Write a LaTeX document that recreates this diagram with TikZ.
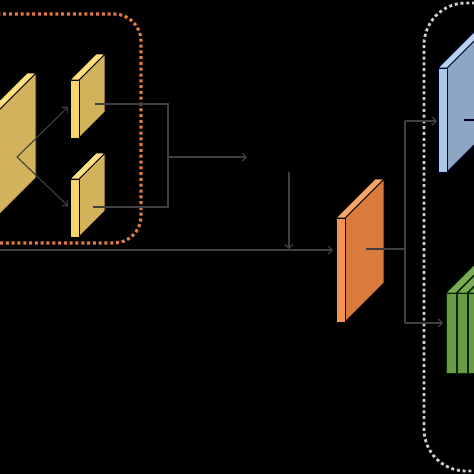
\documentclass[tikz,border=0pt]{standalone}
\usetikzlibrary{arrows.meta}
\definecolor{ylwF}{HTML}{F7D466}
\definecolor{ylwS}{HTML}{D2B25A}
\definecolor{ylwT}{HTML}{FFE07E}
\definecolor{orgF}{HTML}{F4934F}
\definecolor{orgS}{HTML}{D97B3C}
\definecolor{orgT}{HTML}{F7A464}
\definecolor{bluF}{HTML}{A9C9E9}
\definecolor{bluS}{HTML}{8DA6C4}
\definecolor{bluT}{HTML}{B7D3EE}
\definecolor{grnF}{HTML}{6A9A42}
\definecolor{grnS}{HTML}{5E8C38}
\definecolor{grnT}{HTML}{7DAA55}
\definecolor{conn}{HTML}{404040}
\definecolor{dotorg}{HTML}{E07B40}
\definecolor{dotwht}{HTML}{CFCFCF}
\tikzset{
  wire/.style={draw=conn, line width=1.1pt},
  arr/.style={wire, -{Straight Barb[length=4pt,width=8pt]}},
  edge/.style={draw=black!90, line width=0.8pt, line join=round},
  dotbox/.style={line width=3.2pt, dash pattern=on 3pt off 2.8pt, line cap=butt, rounded corners=#1},
}
% \slab{x}{y}{w}{h}{d}{front}{side}{top}{edgecolor}
\newcommand{\slab}[9]{%
  \filldraw[edge, draw=#9, fill=#7] (#1+#3,#2) -- (#1+#3+#5,#2-#5) -- (#1+#3+#5,#2+#4-#5) -- (#1+#3,#2+#4) -- cycle;
  \filldraw[edge, draw=#9, fill=#8] (#1,#2) -- (#1+#3,#2) -- (#1+#3+#5,#2-#5) -- (#1+#5,#2-#5) -- cycle;
  \filldraw[edge, draw=#9, fill=#6] (#1,#2) rectangle (#1+#3,#2+#4);
}
\begin{document}
\begin{tikzpicture}[x=1pt,y=-1pt]
\fill[black] (0,0) rectangle (474,474);
\useasboundingbox (0,0) rectangle (474,474);
\begin{scope}
\clip (0,0) rectangle (474,474);
% dotted group boxes
\draw[dotbox=27, dotorg] (-30,14) rectangle (141,243);
\draw[dotbox=42, dotwht, line width=2.8pt] (424,3) rectangle (540,471);
% big yellow block (partly off canvas)
\slab{-13}{113}{9}{105}{40}{ylwF}{ylwS}{ylwT}{black}
% small yellow blocks
\slab{70}{80}{9}{58}{26}{ylwF}{ylwS}{ylwT}{black}
\slab{70}{179}{9}{58}{26}{ylwF}{ylwS}{ylwT}{black}
% orange block
\slab{336}{218}{9}{104}{39}{orgF}{orgS}{orgT}{black}
% blue block
\slab{438}{68}{9}{104}{39}{bluF}{bluS}{bluT}{black!70!blue!60!black}
% green block slices
\slab{446}{293}{10}{80}{30}{grnF}{grnS}{grnT}{black!60!green!40!black}
\slab{457}{293}{10}{80}{30}{grnF}{grnS}{grnT}{black!60!green!40!black}
\slab{468}{293}{10}{80}{30}{grnF}{grnS}{grnT}{black!60!green!40!black}
% connector coordinates
\coordinate (split) at (17,157);
\coordinate (toptarget) at (68,107);
\coordinate (bottarget) at (68,206);
\coordinate (topout) at (95,104);
\coordinate (botout) at (93,207);
\coordinate (join) at (168,157);
\coordinate (joinend) at (247,157);
\coordinate (vstart) at (289,172);
\coordinate (vend) at (289,249);
\coordinate (hstart) at (-5,250);
\coordinate (orgin) at (333,250);
\coordinate (orgout) at (366,249);
\coordinate (fork) at (405,249);
\coordinate (forktop) at (405,121);
\coordinate (forkbot) at (405,323);
\coordinate (bluin) at (437,121);
\coordinate (grnin) at (443,323);
\coordinate (bluout) at (464,120);
\coordinate (bluend) at (480,120);
% connectors
\draw[arr] (split) -- (toptarget);
\draw[arr] (split) -- (bottarget);
\draw[wire] (topout) -| (join);
\draw[wire] (botout) -| (join);
\draw[arr] (join) -- (joinend);
\draw[arr] (vstart) -- (vend);
\draw[arr] (hstart) -- (orgin);
\draw[wire] (orgout) -- (fork);
\draw[wire] (forktop) -- (forkbot);
\draw[arr] (forktop) -- (bluin);
\draw[arr] (forkbot) -- (grnin);
\draw[wire, draw=black!70!blue!60!black] (bluout) -- (bluend);
\end{scope}
\end{tikzpicture}
\end{document}
